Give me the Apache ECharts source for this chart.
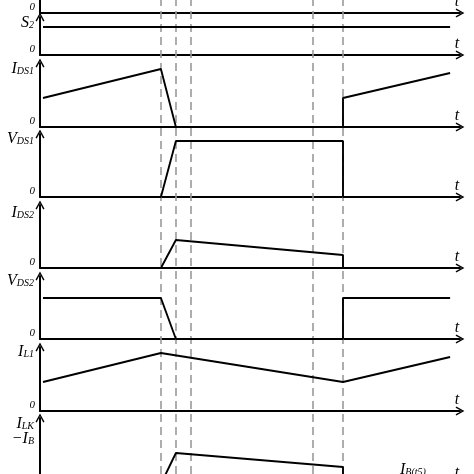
<!DOCTYPE html>
<html>
<head>
<meta charset="utf-8">
<script src="https://cdn.jsdelivr.net/npm/echarts@6/dist/echarts.min.js"></script>
<style>html,body{margin:0;padding:0;background:#fff}#c{width:474px;height:474px}</style>
</head>
<body>
<div id="c"></div>
<script>
// switching instants (time units)
const switchTimes = [40.3, 45.3, 50.3, 91, 101];
// waveforms: [time, level] pairs (level in panel units)
const s2 = [[1, 28], [136.7, 28]];
const iDS1 = [[1, 29], [40.3, 58], [45.3, 0], [101, 0], [101, 29], [136.7, 54]];
const vDS1 = [[1, 0], [40.3, 0], [45.3, 56], [101, 56], [101, 0], [136.7, 0]];
const iDS2 = [[1, 0], [40.3, 0], [45.3, 28], [101, 13], [101, 0], [136.7, 0]];
const vDS2 = [[1, 41], [40.3, 41], [45.3, 0], [101, 0], [101, 41], [136.7, 41]];
const iL1 = [[1, 29], [40.3, 58], [101, 29], [136.7, 54]];
const iLK = [[40.3, 0], [45.3, 31], [101, 17], [101, 0]];
// panel names
const panelNames = ['', '{m|S}{s|2}', '{m|I}{s|DS1}', '{m|V}{s|DS1}', '{m|I}{s|DS2}', '{m|V}{s|DS2}', '{m|I}{s|L1}', '{m|I}{s|LK}\n{m|\u2212I}{s|B}'];
const panelSeries = [null, s2, iDS1, vDS1, iDS2, vDS2, iL1, iLK];

const panelTop = [-50, 17, 63, 134, 205, 276, 347, 418];
const panelH = [63, 38, 64, 63, 63, 63, 64, 66];
const nameGaps = [-6, -6, -6, -5, -8, -5, -5, -13];

const serif = '"Liberation Serif", "DejaVu Serif", serif';
const arrowPath = 'path://M0,9 L5,0 L10,9 L8.6,9.8 L5,3 L1.4,9.8 Z';
const rich = {
  m: {fontFamily: serif, fontStyle: 'italic', fontSize: 16, color: '#000', lineHeight: 15},
  s: {fontFamily: serif, fontStyle: 'italic', fontSize: 10, color: '#000', verticalAlign: 'bottom', lineHeight: 15}
};

const grids = [], xAxes = [], yAxes = [], series = [];
for (let i = 0; i < panelTop.length; i++) {
  grids.push({left: 40, width: 420, top: panelTop[i], height: panelH[i], outerBoundsMode: 'none', containLabel: false});
  xAxes.push({
    type: 'value', gridIndex: i, min: 0, max: 140,
    axisLine: {show: true, lineStyle: {color: '#000', width: 2}, symbol: ['none', arrowPath], symbolSize: [9, 9]},
    axisTick: {show: false}, axisLabel: {show: false}, splitLine: {show: false},
    name: 't', nameLocation: 'end', nameGap: -3,
    nameTextStyle: {fontFamily: serif, fontStyle: 'italic', fontSize: 16, color: '#000', align: 'center', verticalAlign: 'bottom', padding: [0, 0, 3, 0]}
  });
  yAxes.push({
    type: 'value', gridIndex: i, min: 0, max: panelH[i], interval: panelH[i],
    axisLine: {show: true, lineStyle: {color: '#000', width: 2}, symbol: ['none', arrowPath], symbolSize: [9, 9]},
    axisTick: {show: false}, splitLine: {show: false},
    axisLabel: {show: true, margin: 5, formatter: v => v === 0 ? '0' : '', fontFamily: serif, fontStyle: 'italic', fontSize: 11, color: '#000', verticalAlign: 'bottom'},
    name: panelNames[i], nameLocation: 'end', nameGap: nameGaps[i],
    nameTextStyle: {align: 'right', verticalAlign: 'middle', padding: [0, 6, 0, 0], rich: rich}
  });
  if (panelSeries[i]) {
    series.push({
      type: 'line', xAxisIndex: i, yAxisIndex: i, data: panelSeries[i], z: 5,
      symbol: 'none', lineStyle: {color: '#000', width: 1.9}, animation: false, silent: true
    });
  }
}
// full-height overlay for the dashed switching instants
const di = panelTop.length;
grids.push({left: 40, width: 420, top: 0, bottom: 0, outerBoundsMode: 'none', containLabel: false});
xAxes.push({type: 'value', gridIndex: di, min: 0, max: 140, show: false});
yAxes.push({type: 'value', gridIndex: di, min: 0, max: 1, show: false});
series.push({
  type: 'line', xAxisIndex: di, yAxisIndex: di, data: [], animation: false, silent: true, z: 1,
  markLine: {
    silent: true, symbol: ['none', 'none'], label: {show: false}, z: 1,
    lineStyle: {color: '#9a9a9a', width: 1.6, type: [8, 5]},
    data: switchTimes.map(t => ({xAxis: t}))
  }
});

const chart = echarts.init(document.getElementById('c'), null, {renderer: 'canvas'});
chart.setOption({
  backgroundColor: '#fff', animation: false,
  grid: grids, xAxis: xAxes, yAxis: yAxes, series: series,
  graphic: [{
    type: 'text', left: 400, top: 462,
    style: {text: '{m|I}{s|B(t5)}', rich: rich}
  }]
});
</script>
</body>
</html>
